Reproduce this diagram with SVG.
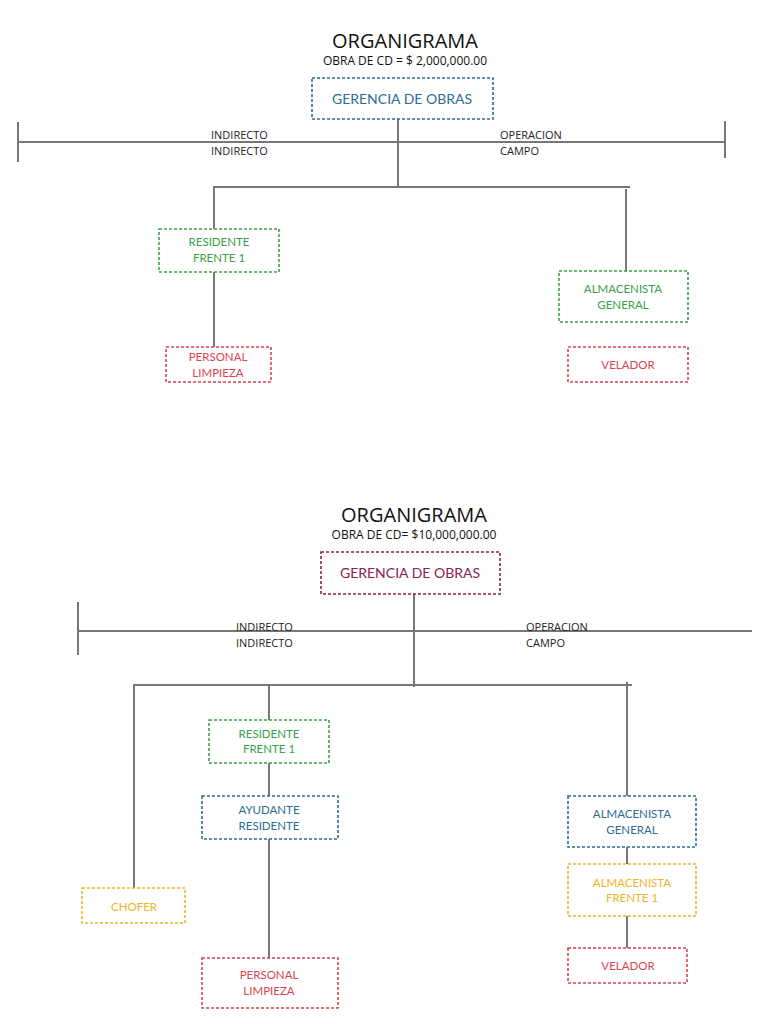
<svg xmlns="http://www.w3.org/2000/svg" width="768" height="1024" viewBox="0 0 768 1024">
<style>
text{font-family:"Open Sans","Liberation Sans",sans-serif;text-anchor:middle}
.t{font-size:20px;fill:#111}
.s{font-size:12px;fill:#111}
.l{font-size:11px;fill:#222;text-anchor:start}
.n{font-family:Lato,"Liberation Sans",sans-serif;font-size:11.5px}
.n.g{font-size:14px}
.b{fill:#fff;stroke-width:1.6;stroke-dasharray:3 2}
.c line{stroke:#777;stroke-width:2}
.blue{stroke:#2e6b96}.tblue{fill:#2e6b96}
.green{stroke:#3aa04a}.tgreen{fill:#3aa04a}
.red{stroke:#d9434f}.tred{fill:#d9434f}
.yel{stroke:#f0b429}.tyel{fill:#f0b429}
.mar{stroke:#8b2252}.tmar{fill:#8b2252}
</style>
<rect width="768" height="1024" fill="#fff"/>
<g class="c">
<line x1="18" y1="142" x2="725" y2="142"/><line x1="18" y1="122" x2="18" y2="162"/><line x1="725" y1="121" x2="725" y2="158"/>
<line x1="398" y1="119" x2="398" y2="187"/><line x1="214" y1="187" x2="630" y2="187"/>
<line x1="214" y1="186" x2="214" y2="229"/><line x1="626" y1="189" x2="626" y2="271"/>
<line x1="214" y1="272" x2="214" y2="347"/>
<line x1="78" y1="631" x2="752" y2="631"/><line x1="78" y1="602" x2="78" y2="655"/>
<line x1="414" y1="594" x2="414" y2="687"/><line x1="134" y1="685" x2="632" y2="685"/>
<line x1="134" y1="684" x2="134" y2="888"/><line x1="269" y1="685" x2="269" y2="720"/>
<line x1="269" y1="763" x2="269" y2="796"/><line x1="269" y1="839" x2="269" y2="958"/>
<line x1="627" y1="682" x2="627" y2="796"/><line x1="627" y1="847" x2="627" y2="864"/><line x1="627" y1="916" x2="627" y2="948"/>
</g>
<text class="t" x="405" y="48">ORGANIGRAMA</text>
<text class="s" x="405" y="65">OBRA DE CD = $ 2,000,000.00</text>
<text class="l" x="211" y="139">INDIRECTO</text><text class="l" x="211" y="155">INDIRECTO</text>
<text class="l" x="500" y="139">OPERACION</text><text class="l" x="500" y="155">CAMPO</text>
<g id="g1"><rect class="b blue" x="312" y="78" width="181" height="41"/><text class="n g tblue" x="402" y="104">GERENCIA DE OBRAS</text></g>
<g id="r1"><rect class="b green" x="159" y="229" width="120" height="43"/><text class="n tgreen" x="219" y="246">RESIDENTE</text><text class="n tgreen" x="219" y="262">FRENTE 1</text></g>
<g id="p1"><rect class="b red" x="166" y="347" width="105" height="35"/><text class="n tred" x="218" y="361">PERSONAL</text><text class="n tred" x="218" y="377">LIMPIEZA</text></g>
<g id="a1"><rect class="b green" x="559" y="271" width="129" height="51"/><text class="n tgreen" x="623" y="293">ALMACENISTA</text><text class="n tgreen" x="623" y="309">GENERAL</text></g>
<g id="v1"><rect class="b red" x="568" y="347" width="120" height="35"/><text class="n tred" x="628" y="369">VELADOR</text></g>
<text class="t" x="414" y="522">ORGANIGRAMA</text>
<text class="s" x="414" y="539">OBRA DE CD= $10,000,000.00</text>
<text class="l" x="236" y="631">INDIRECTO</text><text class="l" x="236" y="647">INDIRECTO</text>
<text class="l" x="526" y="631">OPERACION</text><text class="l" x="526" y="647">CAMPO</text>
<g id="g2"><rect class="b mar" x="321" y="552" width="179" height="42"/><text class="n g tmar" x="410" y="578">GERENCIA DE OBRAS</text></g>
<g id="r2"><rect class="b green" x="209" y="720" width="120" height="43"/><text class="n tgreen" x="269" y="738">RESIDENTE</text><text class="n tgreen" x="269" y="753">FRENTE 1</text></g>
<g id="ay"><rect class="b blue" x="202" y="796" width="136" height="43"/><text class="n tblue" x="269" y="814">AYUDANTE</text><text class="n tblue" x="269" y="830">RESIDENTE</text></g>
<g id="p2"><rect class="b red" x="202" y="958" width="136" height="50"/><text class="n tred" x="269" y="979">PERSONAL</text><text class="n tred" x="269" y="995">LIMPIEZA</text></g>
<g id="ch"><rect class="b yel" x="82" y="888" width="103" height="35"/><text class="n tyel" x="134" y="911">CHOFER</text></g>
<g id="a2"><rect class="b blue" x="568" y="796" width="128" height="51"/><text class="n tblue" x="632" y="818">ALMACENISTA</text><text class="n tblue" x="632" y="834">GENERAL</text></g>
<g id="af"><rect class="b yel" x="568" y="864" width="128" height="52"/><text class="n tyel" x="632" y="887">ALMACENISTA</text><text class="n tyel" x="632" y="902">FRENTE 1</text></g>
<g id="v2"><rect class="b red" x="568" y="948" width="119" height="35"/><text class="n tred" x="628" y="970">VELADOR</text></g>
</svg>
